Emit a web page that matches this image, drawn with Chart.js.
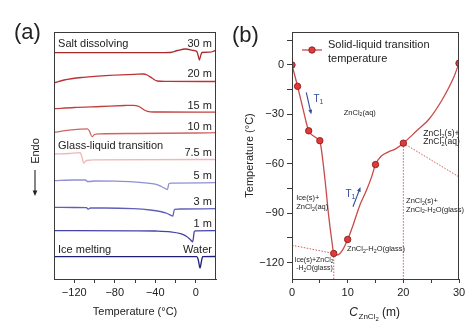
<!DOCTYPE html>
<html>
<head>
<meta charset="utf-8">
<script src="https://cdn.jsdelivr.net/npm/chart.js@4/dist/chart.umd.min.js"></script>
<style>
  html, body { margin: 0; padding: 0; background: #fff; }
  #wrap { position: relative; width: 474px; height: 336px; overflow: hidden; }
  #dsc { position: absolute; left: 0; top: 0; width: 230px; height: 336px; }
  #phase { position: absolute; left: 230px; top: 0; width: 244px; height: 336px; }
</style>
</head>
<body>
<div id="wrap">
  <canvas id="dsc" width="230" height="336"></canvas>
  <canvas id="phase" width="244" height="336"></canvas>
</div>
<script>
// ---------- (a) DSC heating curves, stacked (heat flow, a.u.) ----------
const curveNames = ['30 m', '20 m', '15 m', '10 m', '7.5 m', '5 m', '3 m', '1 m', 'Water'];
const curveColors = ['#a82a2c', '#bd3236', '#c2413f', '#d06462', '#efb7b6', '#8f8fd2', '#5f5fb8', '#4343a8', '#1f1f7a'];

const temp30m = [-140, -40, -25, -18, -10, -2, 1, 2.5, 3.6, 4.8, 6, 14, 17, 20];
const heat30m = [226.3, 226.3, 226.5, 228.5, 230, 228.5, 227.5, 223, 219, 223, 226.5, 226.8, 227.5, 229];
const temp20m = [-140, -130, -111, -85, -60, -52, -48, -43, -38, -30, 20];
const heat20m = [196, 199, 201.7, 203.7, 204.7, 205, 204, 200.7, 198, 197.6, 197.5];
const temp15m = [-140, -120, -94, -70, -62, -56, -50, -45, -35, 20];
const heat15m = [170.3, 171.5, 172.5, 173.5, 173.7, 172.5, 168.5, 167.2, 167, 166.8];
const temp10m = [-140, -125, -114, -107, -105, -102.5, -100, -95, -60, 0, 20];
const heat10m = [146.7, 148.8, 149.8, 150.2, 148, 142.3, 144.5, 145.2, 145.5, 146, 146.3];
const temp7p5m = [-140, -125, -114, -112.5, -110.5, -108, -100, 20];
const heat7p5m = [125, 125.5, 126.3, 122, 116, 118.5, 119.2, 119.5];
const temp5m = [-140, -120, -109, -107, -105, -100, -80, -62, -50, -40, -34, -30, -28, -26.5, -24, 20];
const heat5m = [98.3, 99, 99, 97.5, 97.5, 98, 97.8, 97.2, 96.2, 94.8, 92.5, 90.5, 89.3, 95.5, 95.8, 96.3];
const temp3m = [-140, -120, -108, -106, -104, -90, -62, -45, -35, -28, -22.7, -21, -15, 20];
const heat3m = [71.7, 71.5, 71.3, 69.8, 71, 71, 70.3, 69, 67.5, 65.5, 63, 69.7, 70, 70.3];
const temp1m = [-140, -60, -40, -25, -15, -9, -5, -3, -1.4, 0, 20];
const heat1m = [48.3, 48.2, 48, 47.2, 45.3, 42.5, 39, 37.2, 47.5, 48.2, 48.4];
const tempWater = [-140, 1, 2.5, 4.2, 5.5, 6.8, 20];
const heatWater = [22.3, 22.3, 19, 11, 17, 22.3, 22.5];

const curveTemps = [temp30m, temp20m, temp15m, temp10m, temp7p5m, temp5m, temp3m, temp1m, tempWater];
const curveHeats = [heat30m, heat20m, heat15m, heat10m, heat7p5m, heat5m, heat3m, heat1m, heatWater];
const curveLabelLevel = [235, 205, 173.5, 152, 126.5, 103.5, 77, 55, 29];
const tempTicks = [-120, -100, -80, -60, -40, -20, 0];

// ---------- (b) phase diagram ----------
const transConc = [0, 1, 3, 5, 7.5, 10, 15, 20, 30];
const transTemp = [0, -13, -40, -46, -114.5, -106, -60.5, -47.5, 1];
const liquidusConc = [0, 1, 2, 3, 4, 4.6, 5, 5.5, 6, 6.6, 7.2, 7.5, 8.2, 9.1, 10, 11, 12.2, 13.4, 14.3, 15, 16, 17.5, 18.6, 20, 22.4, 24.6, 27, 29, 30];
const liquidusTemp = [0, -13, -27, -40, -43.5, -44.8, -46, -57, -72, -92, -108, -114.5, -115.3, -112.3, -106, -97, -85, -76, -68, -60.5, -55.5, -52.5, -51, -47.5, -40, -33, -21, -8, 1];
const glassLeftConc = [0, 7.5];
const glassLeftTemp = [-109.5, -114.5];
const glassRightConc = [20, 30];
const glassRightTemp = [-47.5, -68];
const eutecticConc = [7.5, 7.5];
const eutecticTemp = [-114.5, -130];
const saltConc = [20, 20];
const saltTemp = [-47.5, -130];
const concTicks = [0, 5, 10, 15, 20, 25, 30];
const phaseTempTicks = [-120, -105, -90, -75, -60, -45, -30, -15, 0, 15];

const FONT = '"Liberation Sans", Arial, Helvetica, sans-serif';
const INK = '#222';
const FRAME = '#3a3a3a';
const BLUE = '#2f4c9e';
const RED = '#c94a4a';

const fmt = v => (v < 0 ? '\u2212' + Math.abs(v) : String(v));
const pairs = (xs, ys) => xs.map((x, i) => ({ x: x, y: ys[i] }));

// text made of plain / subscript / italic runs
function richWidth(ctx, parts, size) {
  let w = 0;
  for (const p of parts) {
    const s = p.sub ? size * 0.7 : size;
    ctx.font = (p.italic ? 'italic ' : '') + s + 'px ' + FONT;
    w += ctx.measureText(p.t).width;
  }
  return w;
}
function drawRich(ctx, parts, x, y, size, color, align) {
  const w = richWidth(ctx, parts, size);
  let cx = align === 'center' ? x - w / 2 : (align === 'right' ? x - w : x);
  ctx.fillStyle = color;
  ctx.textBaseline = 'middle';
  ctx.textAlign = 'left';
  for (const p of parts) {
    const s = p.sub ? size * 0.7 : size;
    ctx.font = (p.italic ? 'italic ' : '') + s + 'px ' + FONT;
    ctx.fillText(p.t, cx, y + (p.sub ? size * 0.3 : 0));
    cx += ctx.measureText(p.t).width;
  }
}
function arrow(ctx, x1, y1, x2, y2, color, head) {
  const a = Math.atan2(y2 - y1, x2 - x1);
  ctx.strokeStyle = color; ctx.fillStyle = color; ctx.lineWidth = 1.1;
  ctx.beginPath(); ctx.moveTo(x1, y1);
  ctx.lineTo(x2 - Math.cos(a) * head * 0.8, y2 - Math.sin(a) * head * 0.8); ctx.stroke();
  ctx.beginPath();
  ctx.moveTo(x2, y2);
  ctx.lineTo(x2 - head * Math.cos(a - 0.4), y2 - head * Math.sin(a - 0.4));
  ctx.lineTo(x2 - head * Math.cos(a + 0.4), y2 - head * Math.sin(a + 0.4));
  ctx.closePath(); ctx.fill();
}

Chart.defaults.font.family = FONT;
Chart.defaults.color = INK;

// ---------- panel (a) ----------
const dscDecor = {
  id: 'dscDecor',
  afterDraw(chart) {
    const { ctx, chartArea: ca, scales: { x, y } } = chart;
    ctx.save();
    ctx.strokeStyle = FRAME; ctx.lineWidth = 1;
    ctx.strokeRect(ca.left + 0.5, ca.top + 0.5, ca.right - ca.left - 1, ca.bottom - ca.top);
    ctx.font = '11px ' + FONT; ctx.fillStyle = INK; ctx.textBaseline = 'middle';
    ctx.textAlign = 'right';
    curveNames.forEach((n, i) => ctx.fillText(n, x.getPixelForValue(16), y.getPixelForValue(curveLabelLevel[i])));
    ctx.textAlign = 'left';
    ctx.fillText('Salt dissolving', x.getPixelForValue(-136), y.getPixelForValue(235.5));
    ctx.fillText('Glass-liquid transition', x.getPixelForValue(-136), y.getPixelForValue(133));
    ctx.fillText('Ice melting', x.getPixelForValue(-136), y.getPixelForValue(29.5));
    // panel letter
    ctx.font = '22px ' + FONT;
    ctx.fillText('(a)', 14, 33);
    // endothermic direction
    ctx.save();
    ctx.translate(36, 151); ctx.rotate(-Math.PI / 2);
    ctx.font = '11px ' + FONT; ctx.textAlign = 'center';
    ctx.fillText('Endo', 0, 0);
    ctx.restore();
    arrow(ctx, 35, 170, 35, 196, '#222', 6);
    ctx.restore();
  }
};

new Chart(document.getElementById('dsc'), {
  type: 'scatter',
  data: {
    datasets: curveNames.map((n, i) => ({
      label: n,
      data: pairs(curveTemps[i], curveHeats[i]),
      showLine: true,
      borderColor: curveColors[i],
      borderWidth: 1.3,
      pointRadius: 0,
      cubicInterpolationMode: 'monotone'
    }))
  },
  options: {
    responsive: false,
    animation: false,
    layout: { padding: { left: 0, right: 14, top: 32, bottom: 0 } },
    plugins: { legend: { display: false }, tooltip: { enabled: false } },
    scales: {
      x: {
        type: 'linear', min: -140, max: 20,
        afterBuildTicks: s => { s.ticks = tempTicks.map(v => ({ value: v })); },
        afterFit: s => { s.height = 57; },
        ticks: { callback: v => (v % 40 === 0 ? fmt(v) : ''), padding: 3, color: INK, font: { size: 11 }, maxRotation: 0, autoSkip: false },
        grid: { drawOnChartArea: false, drawTicks: true, tickLength: 4, color: FRAME },
        border: { display: true, color: FRAME },
        title: { display: true, text: 'Temperature (\u00B0C)', color: INK, font: { size: 11 }, padding: { top: 0, bottom: 17 } }
      },
      y: {
        min: 0, max: 247,
        afterFit: s => { s.width = 54; },
        ticks: { display: false },
        grid: { display: false },
        border: { display: true, color: FRAME }
      }
    }
  },
  plugins: [dscDecor]
});

// ---------- panel (b) ----------
const sub = t => ({ t: t, sub: true });
const txt = t => ({ t: t });
const phaseNotes = [
  { parts: [txt('ZnCl'), sub('2'), txt('(aq)')], x: 9.3, y: -29, size: 7.5 },
  { parts: [txt('ZnCl'), sub('2'), txt('(s)+')], x: 23.6, y: -41.8, size: 8.5 },
  { parts: [txt('ZnCl'), sub('2'), txt('(aq)')], x: 23.6, y: -46.6, size: 8.5 },
  { parts: [txt('Ice(s)+')], x: 0.75, y: -81, size: 7.5 },
  { parts: [txt('ZnCl'), sub('2'), txt('(aq)')], x: 0.75, y: -86.2, size: 7.5 },
  { parts: [txt('ZnCl'), sub('2'), txt('(s)+')], x: 20.5, y: -82.7, size: 7.5 },
  { parts: [txt('ZnCl'), sub('2'), txt('-H'), sub('2'), txt('O(glass)')], x: 20.5, y: -87.8, size: 7.5 },
  { parts: [txt('ZnCl'), sub('2'), txt('-H'), sub('2'), txt('O(glass)')], x: 9.9, y: -111.8, size: 7.5 },
  { parts: [txt('Ice(s)+ZnCl'), sub('2')], x: 0.45, y: -118.3, size: 7 },
  { parts: [txt('-H'), sub('2'), txt('O(glass)')], x: 0.75, y: -123.5, size: 7 }
];

const phaseDecor = {
  id: 'phaseDecor',
  afterDraw(chart) {
    const { ctx, chartArea: ca, scales: { x, y } } = chart;
    ctx.save();
    ctx.strokeStyle = FRAME; ctx.lineWidth = 1;
    ctx.strokeRect(ca.left + 0.5, ca.top + 0.5, ca.right - ca.left - 1, ca.bottom - ca.top);

    // legend
    const ly = ca.top + 18;
    ctx.strokeStyle = RED; ctx.lineWidth = 1.3;
    ctx.beginPath(); ctx.moveTo(ca.left + 10, ly); ctx.lineTo(ca.left + 30, ly); ctx.stroke();
    ctx.beginPath(); ctx.arc(ca.left + 20, ly, 3.2, 0, Math.PI * 2);
    ctx.fillStyle = '#e03a3a'; ctx.fill(); ctx.strokeStyle = '#8e1c1c'; ctx.lineWidth = 0.9; ctx.stroke();
    ctx.fillStyle = INK; ctx.font = '11px ' + FONT; ctx.textAlign = 'left'; ctx.textBaseline = 'middle';
    ctx.fillText('Solid-liquid transition', ca.left + 36, ca.top + 13);
    ctx.fillText('temperature', ca.left + 36, ca.top + 27);

    // region labels
    for (const n of phaseNotes) {
      drawRich(ctx, n.parts, x.getPixelForValue(n.x), y.getPixelForValue(n.y), n.size, INK, 'left');
    }

    // cooling / heating direction arrows
    arrow(ctx, x.getPixelForValue(2.56), y.getPixelForValue(-16.7), x.getPixelForValue(3.46), y.getPixelForValue(-30), BLUE, 5);
    drawRich(ctx, [txt('T'), sub('1')], x.getPixelForValue(3.85), y.getPixelForValue(-21), 10, BLUE, 'left');
    arrow(ctx, x.getPixelForValue(10.95), y.getPixelForValue(-86.1), x.getPixelForValue(12.3), y.getPixelForValue(-74.2), BLUE, 5);
    drawRich(ctx, [txt('T'), sub('1')], x.getPixelForValue(9.6), y.getPixelForValue(-78.5), 10, BLUE, 'left');

    // x axis title: C with subscript ZnCl2
    const titleParts = [{ t: 'C', italic: true }, sub('ZnCl'), { t: '2', sub: true }, txt(' (m)')];
    const cx = (ca.left + ca.right) / 2;
    const w = richWidth(ctx, titleParts, 12);
    let px = cx - w / 2;
    ctx.fillStyle = INK; ctx.textAlign = 'left'; ctx.textBaseline = 'alphabetic';
    ctx.font = 'italic 12px ' + FONT; ctx.fillText('C', px, 316); px += ctx.measureText('C').width + 0.5;
    ctx.font = '8px ' + FONT; ctx.fillText('ZnCl', px, 319); px += ctx.measureText('ZnCl').width;
    ctx.font = '6px ' + FONT; ctx.fillText('2', px, 321); px += ctx.measureText('2').width;
    ctx.font = '12px ' + FONT; ctx.fillText(' (m)', px, 316);

    // panel letter
    ctx.font = '22px ' + FONT; ctx.textBaseline = 'middle';
    ctx.fillText('(b)', 2, 36);
    ctx.restore();
  }
};

const dotted = (xs, ys) => ({
  data: pairs(xs, ys), showLine: true, pointRadius: 0,
  borderColor: '#cc5a5a', borderWidth: 1, borderDash: [1.5, 1.5]
});

new Chart(document.getElementById('phase'), {
  type: 'scatter',
  data: {
    datasets: [
      {
        label: 'Solid-liquid transition temperature',
        data: pairs(transConc, transTemp),
        pointRadius: 3.2, pointBackgroundColor: '#e03a3a', pointBorderColor: '#8e1c1c', pointBorderWidth: 0.9
      },
      {
        data: pairs(liquidusConc, liquidusTemp), showLine: true, pointRadius: 0,
        borderColor: RED, borderWidth: 1.3, cubicInterpolationMode: 'monotone'
      },
      dotted(glassLeftConc, glassLeftTemp),
      dotted(glassRightConc, glassRightTemp),
      dotted(eutecticConc, eutecticTemp),
      dotted(saltConc, saltTemp)
    ]
  },
  options: {
    responsive: false,
    animation: false,
    layout: { padding: { left: 0, right: 15, top: 32, bottom: 0 } },
    plugins: { legend: { display: false }, tooltip: { enabled: false } },
    scales: {
      x: {
        type: 'linear', min: 0, max: 30,
        afterBuildTicks: s => { s.ticks = concTicks.map(v => ({ value: v })); },
        afterFit: s => { s.height = 57; },
        ticks: { callback: v => (v % 10 === 0 ? fmt(v) : ''), padding: 3, color: INK, font: { size: 11 }, maxRotation: 0, autoSkip: false },
        grid: { drawOnChartArea: false, drawTicks: true, tickLength: 4, color: FRAME },
        border: { display: true, color: FRAME }
      },
      y: {
        min: -130, max: 20,
        afterBuildTicks: s => { s.ticks = phaseTempTicks.map(v => ({ value: v })); },
        afterFit: s => { s.width = 62; },
        ticks: { callback: v => (v % 30 === 0 ? fmt(v) : ''), padding: 3, color: INK, font: { size: 11 }, autoSkip: false },
        grid: { drawOnChartArea: false, drawTicks: true, tickLength: 5, color: FRAME },
        border: { display: true, color: FRAME },
        title: { display: true, text: 'Temperature (\u00B0C)', color: INK, font: { size: 11 }, padding: { top: 13, bottom: 0 } }
      }
    }
  },
  plugins: [phaseDecor]
});
</script>
</body>
</html>
